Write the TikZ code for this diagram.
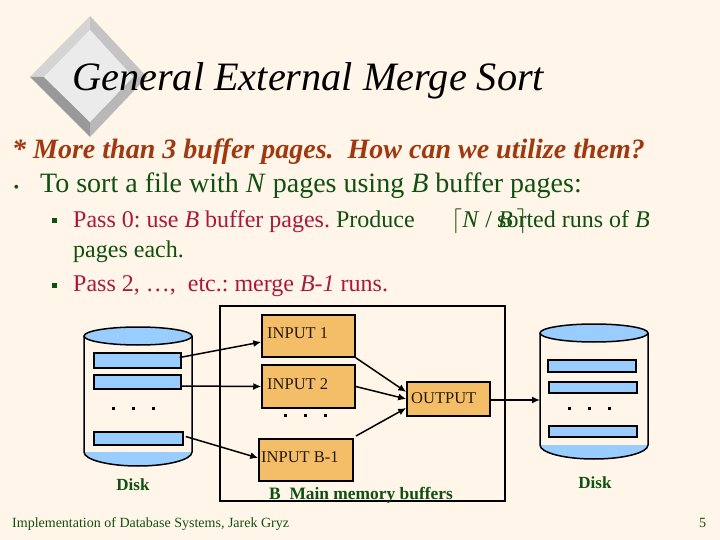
\documentclass[tikz,border=0pt]{standalone}
\usepackage{fontspec}
\setmainfont{Liberation Serif}
\usetikzlibrary{arrows.meta}
\definecolor{slidebg}{RGB}{255,245,233}
\definecolor{titlebrown}{RGB}{160,56,16}
\definecolor{textgreen}{RGB}{16,80,16}
\definecolor{passred}{RGB}{170,25,60}
\definecolor{diskblue}{RGB}{153,204,255}
\definecolor{bufforange}{RGB}{244,190,105}
\frenchspacing
\tikzset{
  textline/.style={anchor=base west, inner sep=0pt, text=textgreen, font=\fontsize{24}{24}\selectfont},
  filebar/.style={draw, line width=1.4pt, fill=diskblue, inner sep=0pt},
  buffbox/.style={draw, line width=1.5pt, fill=bufforange, inner sep=0pt},
  bufflabel/.style={anchor=base west, inner sep=0pt, font=\fontsize{16.5}{16.5}\selectfont, text=black!80!brown},
  disklabel/.style={anchor=base, inner sep=0pt, font=\fontsize{17}{17}\selectfont\bfseries, text=textgreen},
  dotlabel/.style={fill=black, inner sep=0pt, minimum size=3pt},
  flow/.style={-{Latex[length=8pt,width=7pt]}, line width=1.5pt},
}
\begin{document}
\begin{tikzpicture}[x=1pt, y=-1pt]
  % Background
  \fill[slidebg] (0,0) rectangle (720,540);
  \useasboundingbox (0,0) rectangle (720,540);

  % Diamond behind the title
  \fill[black!17] (90,16) -- (30,77) -- (44,77) -- (90,30) -- cycle;
  \fill[black!23] (90,16) -- (147,77) -- (133,77) -- (90,30) -- cycle;
  \fill[black!40] (30,77) -- (90,137) -- (90,122) -- (44,77) -- cycle;
  \fill[black!28] (147,77) -- (90,137) -- (90,122) -- (133,77) -- cycle;
  \fill[black!8] (90,30) -- (44,77) -- (90,122) -- (133,77) -- cycle;

  % Title and text lines
  \node[textline, text=black, font=\fontsize{40.3}{40}\selectfont\itshape] (title) at (72,91) {General External Merge Sort};
  \node[textline, text=titlebrown, font=\fontsize{28}{28}\selectfont\bfseries\itshape] (star) at (12,158.5) {* More than 3 buffer pages.\ \ How can we utilize them?};
  \node[textline, font=\fontsize{16}{16}\selectfont] (dot1) at (13.5,193) {\textbullet};
  \node[textline, font=\fontsize{28}{28}\selectfont] (line1) at (40,193) {To sort a file with \textit{N} pages using \textit{B} buffer pages:};
  \foreach \name/\ypos in {sq1/221, sq2/285} {
    \node[fill=textgreen, inner sep=0pt, minimum size=5pt] (\name) at (54,\ypos) {};
  }
  \node[textline] (pass0) at (73,228) {\textcolor{passred}{Pass 0: use \textit{B} buffer pages.} Produce};
  \node[textline] (pass0b) at (73,257) {pages each.};
  \node[textline, text=passred] (pass2) at (73,291) {Pass 2, …,\ \ etc.: merge \textit{B-1} runs.};
  \node[textline] (ceil) at (451,228) {$\lceil$\textit{N} / \textit{B}\,$\rceil$};
  \node[textline] (runs) at (497,228) {sorted runs of \textit{B}};

  % Left disk
  \fill[slidebg] (84,336) rectangle (192,452);
  \fill[diskblue] (84,452) -- (192,452) arc[start angle=0, end angle=-180, x radius=54, y radius=-14] -- cycle;
  \draw[line width=1.5pt] (84,336) -- (84,452) arc[start angle=180, end angle=0, x radius=54, y radius=14] -- (192,336);
  \draw[line width=1.5pt, fill=diskblue] (138,336) ellipse[x radius=54, y radius=9];
  \node[filebar, minimum width=87pt, minimum height=15pt] (lfile1) at (137.5,360.5) {};
  \node[filebar, minimum width=87pt, minimum height=14pt] (lfile2) at (137.5,382) {};
  \node[filebar, minimum width=89pt, minimum height=13pt] (lfile3) at (138.5,438.5) {};
  \foreach \x in {113,133,153} {
    \node[dotlabel] at (\x,408) {};
  }
  \node[disklabel] (ldisk) at (133,490) {Disk};

  % Main memory
  \node[draw, line width=1.5pt, inner sep=0pt, minimum width=285pt, minimum height=195pt] (memory) at (362.5,403.5) {};
  \node[buffbox, minimum width=93pt, minimum height=42pt] (in1) at (308.5,336) {};
  \node[buffbox, minimum width=93pt, minimum height=43pt] (in2) at (308.5,386.5) {};
  \node[buffbox, minimum width=94pt, minimum height=42pt] (in3) at (306,460) {};
  \node[buffbox, minimum width=83pt, minimum height=34pt] (out) at (448.5,399) {};
  \node[bufflabel] at (267,338) {INPUT 1};
  \node[bufflabel] at (267,389) {INPUT 2};
  \node[bufflabel] at (261,462) {INPUT B-1};
  \node[bufflabel] at (411,403) {OUTPUT};
  \foreach \x in {285,305,325} {
    \node[dotlabel] at (\x,415) {};
  }
  \node[disklabel, anchor=base west, font=\fontsize{17.4}{17}\selectfont\bfseries] (bufftext) at (269,499) {B\ \ Main memory buffers};

  % Right disk
  \fill[slidebg] (540,333) rectangle (648,445);
  \fill[diskblue] (540,445) -- (648,445) arc[start angle=0, end angle=-180, x radius=54, y radius=-14] -- cycle;
  \draw[line width=1.5pt] (540,333) -- (540,445) arc[start angle=180, end angle=0, x radius=54, y radius=14] -- (648,333);
  \draw[line width=1.5pt, fill=diskblue] (594,333) ellipse[x radius=54, y radius=9];
  \node[filebar, minimum width=88pt, minimum height=12pt] (rfile1) at (592,366) {};
  \node[filebar, minimum width=88pt, minimum height=11pt] (rfile2) at (593,387.5) {};
  \node[filebar, minimum width=88pt, minimum height=11pt] (rfile3) at (593,431.5) {};
  \foreach \x in {569,589,609} {
    \node[dotlabel] at (\x,408) {};
  }
  \node[disklabel] (rdisk) at (595,488) {Disk};

  % Arrows
  \coordinate (lastout) at (356,436);
  \coordinate (rdiskin) at (540,400);
  \draw[flow] ([xshift=-2pt,yshift=3pt]lfile1.east) -- ([yshift=-6pt]in1.west);
  \draw[flow] ([yshift=-4pt]lfile2.east) -- (in2.west);
  \draw[flow] ([xshift=2pt,yshift=2pt]lfile3.east) -- ([yshift=2pt]in3.west);
  \draw[flow] (in1.south east) -- ([yshift=7pt]out.west);
  \draw[flow] (in2.east) -- (out.west);
  \draw[flow] (lastout) -- ([yshift=-9pt]out.west);
  \draw[flow] ([yshift=-1pt]out.east) -- (rdiskin);

  % Footer
  \node[textline, font=\fontsize{14}{14}\selectfont] (footer) at (12,527) {Implementation of Database Systems, Jarek Gryz};
  \node[textline, font=\fontsize{14}{14}\selectfont] (pagenum) at (699,527) {5};
\end{tikzpicture}
\end{document}
